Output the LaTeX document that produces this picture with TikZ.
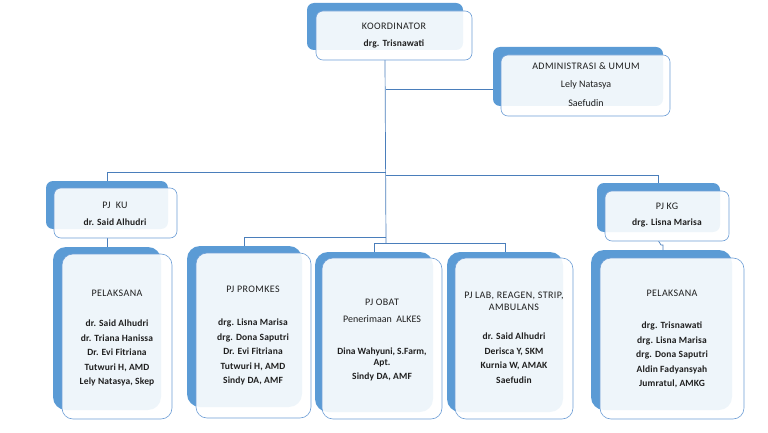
\documentclass[tikz,border=0pt]{standalone}
\usepackage{fontspec}
\setmainfont{Carlito}
\newfontfamily\ttlfont[LetterSpace=4]{Carlito}
\newfontfamily\nmfont[LetterSpace=1.5]{Carlito}
\definecolor{cblue}{HTML}{5B9BD5}
\definecolor{cline}{HTML}{6F9FD6}
\definecolor{cconn}{HTML}{4A7EBB}
\definecolor{ctext}{HTML}{1F1F1F}
\tikzset{
  back/.style={fill=cblue, draw=none, rounded corners=#1, inner sep=0pt, outer sep=0pt},
  back/.default=7pt,
  front/.style={fill=white, fill opacity=0.9, draw=cline, line width=0.6pt, rounded corners=#1, inner sep=0pt, outer sep=0pt},
  front/.default=7pt,
  ttl/.style={font=\ttlfont\fontsize{10}{12}\selectfont, text=ctext, align=center, inner sep=0pt},
  reg/.style={font=\fontsize{10}{12}\selectfont, text=ctext, align=center, inner sep=0pt},
  nm/.style={font=\nmfont\bfseries\fontsize{9.5}{14.5}\selectfont, text=ctext, align=center, inner sep=0pt},
  conn/.style={draw=cconn, line width=0.7pt}
}
\begin{document}
\begin{tikzpicture}[x=1pt,y=-1pt]
\useasboundingbox (0,0) rectangle (768,433);
% back cards
\node[back, minimum width=156pt, minimum height=47pt] (koordB) at (385,26.5) {};
\node[back, minimum width=170pt, minimum height=59pt] (adminB) at (578,76.5) {};
\node[back, minimum width=122pt, minimum height=48pt] (kuB) at (107,205) {};
\node[back, minimum width=123pt, minimum height=49pt] (kgB) at (658.5,207.5) {};
\node[back=13pt, minimum width=108pt, minimum height=163pt] (pelLB) at (107,328.5) {};
\node[back=13pt, minimum width=115pt, minimum height=161pt] (promB) at (244.5,326.5) {};
\node[back=13pt, minimum width=118pt, minimum height=160pt] (obatB) at (374,332) {};
\node[back=13pt, minimum width=116pt, minimum height=160pt] (labB) at (505,332) {};
\node[back=13pt, minimum width=141pt, minimum height=160pt] (pelRB) at (661.5,330) {};
% connectors
\coordinate (jA) at (386,89);
\coordinate (jL) at (386,172);
\coordinate (jR) at (386,175);
\coordinate (jP) at (386,237);
\coordinate (jO) at (386,243);
\coordinate (kgJ1) at (661,245);
\coordinate (kgJ2) at (663,245);
\draw[conn] (koordB.center |- 0,60) -- (jO);
\draw[conn] (jA) -- (jA -| adminB.west);
\draw[conn] (jL) -- (jL -| kuB.north) -- (kuB.north);
\draw[conn] (jR) -- (jR -| kgB.north) -- (kgB.north);
\draw[conn] (kuB.north |- 0,238) -- (pelLB.north);
\draw[conn] (kgB.north |- 0,241) -- (kgJ1) -- (kgJ2) -- (kgJ2 |- pelRB.north);
\draw[conn] (jP) -- (jP -| promB.north) -- (promB.north);
\draw[conn] (obatB.north) -- (obatB.north |- jO) -- (labB.north |- jO) -- (labB.north);
% front cards
\node[front, minimum width=156pt, minimum height=49pt] (koordF) at (394,35.5) {};
\node[front, minimum width=169pt, minimum height=61pt] (adminF) at (585.5,85.5) {};
\node[front, minimum width=123pt, minimum height=50pt] (kuF) at (115.5,213) {};
\node[front, minimum width=124pt, minimum height=50pt] (kgF) at (667,216) {};
\node[front=11pt, minimum width=110pt, minimum height=165pt] (pelLF) at (117,336.5) {};
\node[front=11pt, minimum width=115pt, minimum height=165pt] (promF) at (253.5,335.5) {};
\node[front=11pt, minimum width=120pt, minimum height=161pt] (obatF) at (382,338.5) {};
\node[front=11pt, minimum width=118pt, minimum height=161pt] (labF) at (514,338.5) {};
\node[front=11pt, minimum width=144pt, minimum height=161pt] (pelRF) at (672,338.5) {};
% texts
\node[ttl] (t1) at (394,26.5) {KOORDINATOR};
\node[nm] (n1) at (394,44) {drg. Trisnawati};
\node[ttl] (t2) at (586,66) {ADMINISTRASI \& UMUM};
\node[reg] (t2b) at (586,85) {Lely Natasya};
\node[reg] (t2c) at (586,103) {Saefudin};
\node[ttl] (t3) at (115,205) {PJ\ \ KU};
\node[nm] (n3) at (115,222) {dr. Said Alhudri};
\node[ttl] (t4) at (667,206) {PJ KG};
\node[nm] (n4) at (667,223) {drg. Lisna Marisa};
\node[ttl] (t5) at (117,293) {PELAKSANA};
\node[nm] (n5) at (117,353) {dr. Said Alhudri\\dr. Triana Hanissa\\Dr. Evi Fitriana\\Tutwuri H, AMD\\Lely Natasya, Skep};
\node[ttl] (t6) at (253,289) {PJ PROMKES};
\node[nm] (n6) at (253,352) {drg. Lisna Marisa\\drg. Dona Saputri\\Dr. Evi Fitriana\\Tutwuri H, AMD\\Sindy DA, AMF};
\node[ttl] (t7) at (382,302) {PJ OBAT};
\node[reg] (t7b) at (382,319) {Penerimaan\ \ ALKES};
\node[nm, font=\bfseries\fontsize{9.5}{10.5}\selectfont] (n7) at (382,357.5) {Dina Wahyuni, S.Farm,\\Apt.};
\node[nm] (n7b) at (382,377) {Sindy DA, AMF};
\node[ttl] (t8) at (514,301) {PJ LAB, REAGEN, STRIP,\\AMBULANS};
\node[nm] (n8) at (514,358) {dr. Said Alhudri\\Derisca Y, SKM\\Kurnia W, AMAK\\Saefudin};
\node[ttl] (t9) at (672,293) {PELAKSANA};
\node[nm] (n9) at (672,355) {drg. Trisnawati\\drg. Lisna Marisa\\drg. Dona Saputri\\Aldin Fadyansyah\\Jumratul, AMKG};
\end{tikzpicture}
\end{document}
